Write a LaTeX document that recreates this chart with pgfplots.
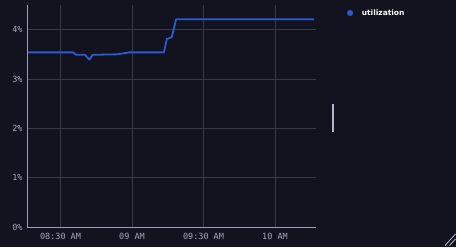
\documentclass[border=0pt]{standalone}
\usepackage{pgfplots}
\pgfplotsset{compat=1.18}
\usepackage{fontspec}
\setmainfont{DejaVu Sans}
\newfontfamily\monofont{DejaVu Sans Mono}
\definecolor{bg}{HTML}{12131F}
\definecolor{gridc}{HTML}{393A48}
\definecolor{axisc}{HTML}{9EA0B6}
\definecolor{tickc}{HTML}{A4A6BA}
\definecolor{linec}{HTML}{2D5BD4}
\definecolor{scrollc}{HTML}{B4B6CC}
\begin{document}
\begin{tikzpicture}[x=1pt,y=1pt]
\fill[bg] (0,0) rectangle (456,247);
\begin{axis}[
  at={(27.5pt,20pt)}, anchor=south west,
  scale only axis, width=288.5pt, height=222pt,
  xmin=16.15, xmax=137.2, ymin=0, ymax=4.5,
  xtick={30,60,90,120},
  xticklabels={08:30 AM,09 AM,09:30 AM,10 AM},
  ytick={0,1,2,3,4},
  yticklabels={0\%,1\%,2\%,3\%,4\%},
  grid=major,
  major grid style={gridc, line width=0.8pt},
  axis x line*=bottom, axis y line*=left,
  axis line style={axisc, line width=0.9pt, -},
  major tick length=0pt,
  tick style={draw=none},
  ticklabel style={font=\monofont\fontsize{8.5}{9}\selectfont, text=tickc, inner sep=0pt},
  yticklabel style={xshift=-4.8pt},
  xticklabel style={yshift=-5.5pt},
  legend style={draw=none, fill=none, text=white, font=\bfseries\fontsize{7.5}{9}\selectfont,
    at={(1.107,0.964)}, anchor=west, inner sep=0pt, cells={anchor=west}},
  legend image code/.code={\path[draw=none, fill=none] (-3pt,-1pt) rectangle (9.7pt,1pt); \fill[linec, draw=none] (0pt,0pt) circle (3pt);},
]
\addplot[linec, line width=1.8pt, line join=round] coordinates {
(16.4,3.54) (35.1,3.54) (36.7,3.49) (40.3,3.49) (42.1,3.39) (43.5,3.49)
(53.6,3.50) (57.8,3.53) (58.5,3.54) (73.4,3.54) (74.6,3.81) (76.7,3.85)
(78.5,4.21) (136.4,4.21)
};
\addlegendentry{utilization}
\end{axis}
\fill[scrollc] (331.5,115.5) rectangle (334,143);
\draw[scrollc, line width=0.8pt] (445,1.5) -- (455.5,13);
\draw[scrollc, line width=0.8pt] (449.5,1.5) -- (455.5,8);
\end{tikzpicture}
\end{document}
